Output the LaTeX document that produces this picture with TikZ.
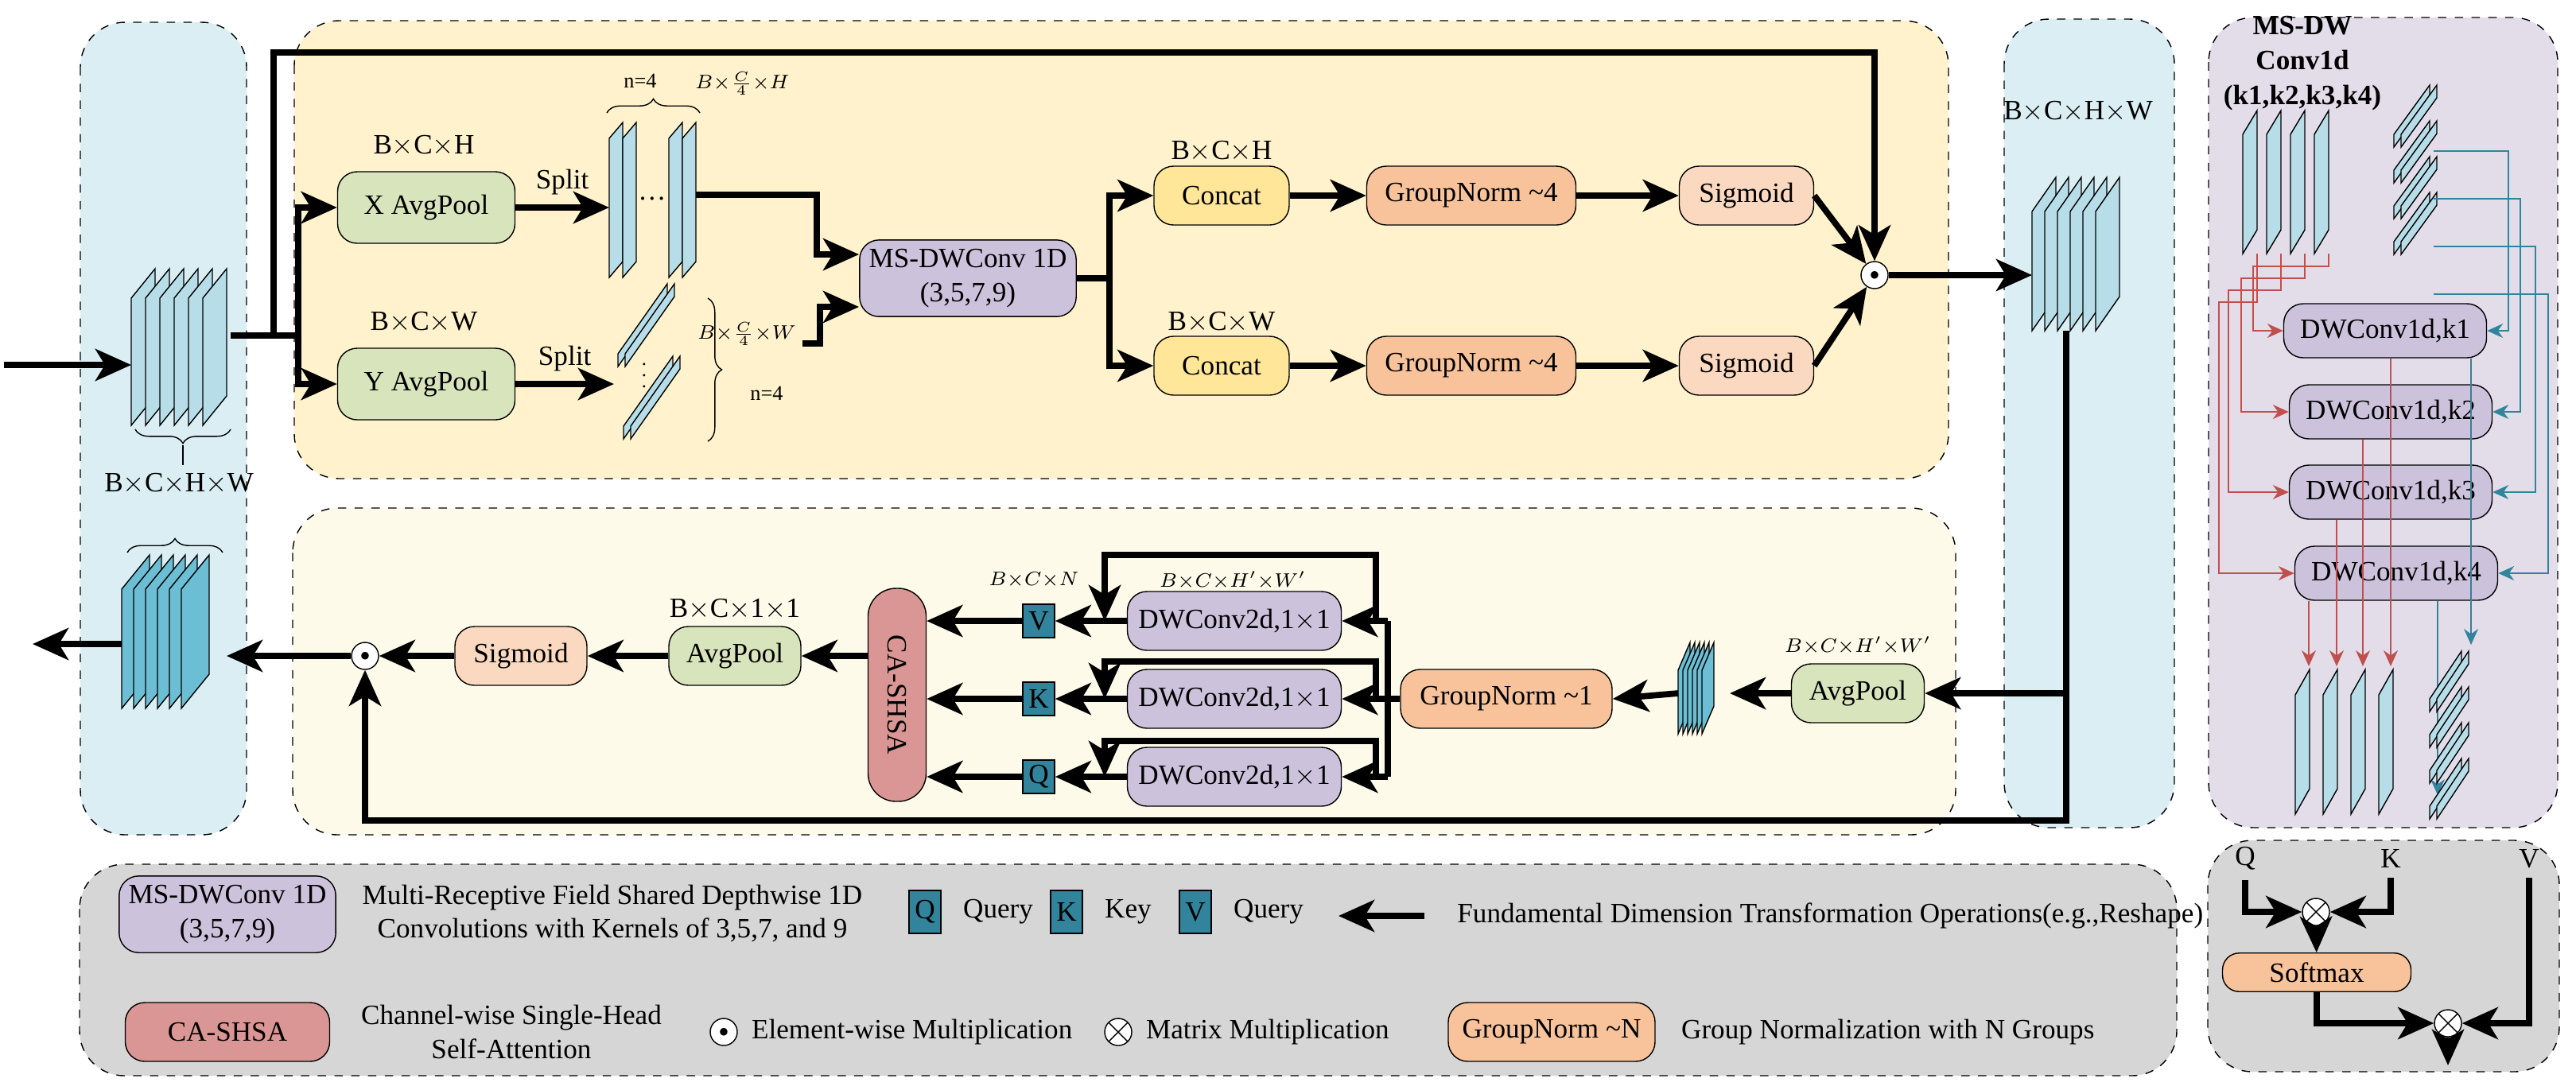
\documentclass[tikz,border=0pt]{standalone}
\usepackage{fontspec}
\setmainfont{Liberation Serif}
\usetikzlibrary{arrows.meta,positioning,decorations.pathreplacing,calc}
\definecolor{cblue}{HTML}{DAEEF3}
\definecolor{cyel}{HTML}{FFF2CC}
\definecolor{cyelb}{HTML}{FEFAEA}
\definecolor{cpanel}{HTML}{E3DDEA}
\definecolor{cgray}{HTML}{D6D6D6}
\definecolor{cgreen}{HTML}{D8E4BC}
\definecolor{cpurp}{HTML}{CCC2DC}
\definecolor{cconcat}{HTML}{FFE699}
\definecolor{corange}{HTML}{F8C39B}
\definecolor{csig}{HTML}{FAD9C0}
\definecolor{cred}{HTML}{D99694}
\definecolor{cteal}{HTML}{31849B}
\definecolor{cstrip}{HTML}{B7DDE8}
\definecolor{cdark}{HTML}{6BBED3}
\definecolor{credl}{HTML}{C0504D}
% feature map stack: x, ybot, n, step, h, dx, dy, colour
\newcommand\fmap[8]{\foreach \i in {1,...,#3}{\filldraw[fill=#8,thin] ({#1+(\i-1)*#4},#2) -- ++(0,#5) -- ++(#6,#7) -- ++(0,-#5) -- cycle;}}
% pair of slanted plates: x, y, dx, dy, colour
\newcommand\dpair[5]{\foreach \j in {0,1}{\filldraw[fill=#5,thin] ({#1+\j*0.09},#2) -- ++(0,.16) -- ++(#3,#4) -- ++(0,-.16) -- cycle;}}
\tikzset{
  box/.style={draw,thin,rounded corners=7pt,align=center,minimum height=.74cm,font=\fontsize{10}{12}\selectfont},
  lbl/.style={font=\fontsize{10}{12}\selectfont,align=center},
  slbl/.style={font=\fontsize{7.5}{9}\selectfont,inner sep=1pt},
  arr/.style={line width=2.2pt,-{Stealth[length=4.5mm,width=4mm,inset=1.2mm]}},
  ln/.style={line width=2.2pt},
  tarr/.style={thin,-{Stealth[length=2mm,width=1.8mm]}},
  panel/.style={draw,dashed,thin,rounded corners=16pt},
  qkv/.style={draw,thin,fill=cteal,minimum width=.4cm,minimum height=.42cm,inner sep=1pt,font=\fontsize{10}{12}\selectfont},
  odot/.style={circle,draw,fill=white,inner sep=0pt,minimum size=3.4mm,font=\fontsize{6}{6}\selectfont,node contents={$\bullet$}},
  otimes/.style={circle,draw,fill=white,inner sep=0pt,minimum size=3.4mm,path picture={
      \draw ([shift={(-.12,-.12)}]path picture bounding box.center) -- ++(.24,.24);
      \draw ([shift={(-.12,.12)}]path picture bounding box.center) -- ++(.24,-.24);}},
}
\begin{document}
\begin{tikzpicture}
\useasboundingbox (0,0) rectangle (32.39,-13.7);
% panels
\draw[panel,fill=cblue] (1.01,-.28) rectangle (3.1,-10.5);
\draw[panel,fill=cyel] (3.7,-.26) rectangle (24.5,-6.02);
\draw[panel,fill=cyelb] (3.68,-6.39) rectangle (24.59,-10.5);
\draw[panel,fill=cblue] (25.2,-.24) rectangle (27.34,-10.41);
\draw[panel,fill=cpanel] (27.77,-.22) rectangle (32.16,-10.41);
\draw[panel,fill=cgray] (1,-10.87) rectangle (27.37,-13.53);
\draw[panel,fill=cgray] (27.76,-10.57) rectangle (32.18,-13.48);

% upper branch
\fmap{1.65}{-5.35}{6}{.18}{1.6}{.3}{.37}{cstrip}
\coordinate (in) at (.05,-4.59);
\coordinate (inL) at (1.65,-4.59);
\coordinate (sL) at (2.9,-4.22);
\coordinate (br) at (3.75,-4.22);
\coordinate (tp) at (3.44,-4.22);
\draw[arr] (in) -- (inL);
\draw[decorate,decoration={brace,mirror,amplitude=5pt}] (1.7,-5.4) -- (2.9,-5.4);
\draw[thin] (2.3,-5.6) -- (2.3,-5.85);
\node[lbl] (lin) at (2.25,-6.08) {B$\times$C$\times$H$\times$W};

\node[box,fill=cgreen,minimum width=2.23cm,minimum height=.9cm] (xpool) at (5.36,-2.61) {X AvgPool};
\node[box,fill=cgreen,minimum width=2.23cm,minimum height=.9cm] (ypool) at (5.36,-4.83) {Y AvgPool};
\node[lbl] at (5.33,-1.83) {B$\times$C$\times$H};
\node[lbl] at (5.33,-4.05) {B$\times$C$\times$W};
\draw[ln] (sL) -- (br);
\draw[arr] (br) |- (xpool.west);
\draw[arr] (br) |- (ypool.west);

% split along H
\fmap{7.66}{-3.49}{2}{.17}{1.75}{.17}{.2}{cstrip}
\fmap{8.41}{-3.49}{2}{.17}{1.75}{.17}{.2}{cstrip}
\node[inner sep=0pt] at (8.2,-2.5) {\dots};
\coordinate (sx) at (7.66,-2.61);
\draw[arr] (xpool) -- node[lbl,above] {Split} (sx);
\draw[decorate,decoration={brace,amplitude=5pt}] (7.63,-1.42) -- (8.8,-1.42);
\node[slbl] at (8.05,-1.02) {n=4};
\node[slbl,anchor=west] at (8.7,-1.05) {$B{\times}\frac{C}{4}{\times}H$};
% split along W
\dpair{7.77}{-4.61}{.62}{.88}{cstrip}
\dpair{7.84}{-5.52}{.62}{.88}{cstrip}
\node[inner sep=0pt,font=\fontsize{7}{7}\selectfont] at (8.1,-4.62) {$\vdots$};
\coordinate (sy) at (7.72,-4.83);
\draw[arr] (ypool) -- node[lbl,above] {Split} (sy);
\draw[decorate,decoration={brace,amplitude=5pt}] (8.9,-3.75) -- (8.9,-5.55);
\node[slbl,anchor=east] at (10.05,-4.2) {$B{\times}\frac{C}{4}{\times}W$};
\node[slbl] at (9.64,-4.95) {n=4};

\node[box,fill=cpurp,minimum width=2.67cm,minimum height=.88cm] (ms) at (12.17,-3.5) {MS-DWConv 1D\\(3,5,7,9)};
\coordinate (sxo) at (8.75,-2.45);
\coordinate (syo) at (10.09,-4.32);
\draw[arr] (sxo) -- (10.27,-2.45) |- ([yshift=3mm]ms.west);
\draw[arr] (syo) -- (10.31,-4.32) |- ([yshift=-3.6mm]ms.west);

\node[box,fill=cconcat,minimum width=1.7cm] (cc1) at (15.36,-2.46) {Concat};
\node[box,fill=corange,minimum width=2.63cm] (gn1) at (18.5,-2.46) {GroupNorm \textasciitilde4};
\node[box,fill=csig,minimum width=1.69cm] (sg1) at (21.96,-2.46) {Sigmoid};
\node[box,fill=cconcat,minimum width=1.7cm] (cc2) at (15.36,-4.6) {Concat};
\node[box,fill=corange,minimum width=2.63cm] (gn2) at (18.5,-4.6) {GroupNorm \textasciitilde4};
\node[box,fill=csig,minimum width=1.69cm] (sg2) at (21.96,-4.6) {Sigmoid};
\node[lbl] at (15.36,-1.9) {B$\times$C$\times$H};
\node[lbl] at (15.36,-4.05) {B$\times$C$\times$W};
\coordinate (msb) at (13.95,-3.5);
\draw[ln] (ms.east) -- (msb);
\draw[arr] (msb) |- (cc1);
\draw[arr] (msb) |- (cc2);
\draw[arr] (cc1) -- (gn1);
\draw[arr] (gn1) -- (sg1);
\draw[arr] (cc2) -- (gn2);
\draw[arr] (gn2) -- (sg2);
\node (dot1) at (23.57,-3.46) [odot];
\draw[arr] (sg1.east) -- (dot1);
\draw[arr] (sg2.east) -- (dot1);
\draw[arr] (tp) -- (3.44,-.66) -| (dot1.north);

% middle stack
\fmap{25.55}{-4.16}{6}{.16}{1.5}{.3}{.43}{cstrip}
\node[lbl] at (26.13,-1.4) {B$\times$C$\times$H$\times$W};
\coordinate (mi) at (25.55,-3.46);
\coordinate (mo) at (25.98,-4.16);
\draw[arr] (dot1) -- (mi);

% lower branch
\node[box,fill=cgreen,minimum width=1.67cm] (ap2) at (23.36,-8.72) {AvgPool};
\node[slbl] at (23.36,-8.12) {$B{\times}C{\times}H'{\times}W'$};
\fmap{21.1}{-9.23}{6}{.06}{.8}{.15}{.35}{cdark}
\coordinate (ssr) at (21.75,-8.72);
\coordinate (ssl) at (21.1,-8.72);
\draw[arr] (25.98,-8.72) -- (ap2.east);
\draw[arr] (ap2.west) -- (ssr);
\node[box,fill=corange,minimum width=2.66cm] (gn3) at (18.94,-8.79) {GroupNorm \textasciitilde1};
\draw[arr] (ssl) -- (gn3.east);
\coordinate (bus) at (17.45,-8.79);
\draw[ln] (gn3.west) -- (bus);
\draw[ln] (17.45,-7.81) -- (17.45,-9.77);
\node[box,fill=cred,minimum width=.73cm,minimum height=2.68cm,rounded corners=10pt] (sha) at (11.28,-8.74) {\rotatebox{-90}{CA-SHSA}};
\foreach \n/\y/\t/\l in {v/-7.81/V/-6.98, k/-8.79/K/-8.32, q/-9.77/Q/-9.32}{
  \node[box,fill=cpurp,minimum width=2.69cm] (dw\n) at (15.52,\y) {DWConv2d,1$\times$1};
  \node[qkv] (\n) at (13.06,\y) {\t};
  \draw[arr] (17.45,\y) -- (dw\n.east);
  \draw[arr] (dw\n.west) -- (\n.east);
  \draw[arr] (\n.west) -- (sha.east |- \n);
  \draw[arr] (17.3,\y) -- (17.3,\l) -| (13.89,\y);
}
\node[slbl] at (13.0,-7.3) {$B{\times}C{\times}N$};
\node[slbl] at (15.5,-7.3) {$B{\times}C{\times}H'{\times}W'$};
\node[box,fill=cgreen,minimum width=1.66cm] (ap1) at (9.24,-8.25) {AvgPool};
\node[lbl] at (9.24,-7.66) {B$\times$C$\times$1$\times$1};
\node[box,fill=csig,minimum width=1.66cm] (sg3) at (6.55,-8.25) {Sigmoid};
\node (dot2) at (4.59,-8.25) [odot];
\draw[arr] (sha.west |- ap1) -- (ap1.east);
\draw[arr] (ap1) -- (sg3);
\draw[arr] (sg3) -- (dot2);
\draw[arr] (mo) |- (4.59,-10.32) -- (dot2.south);
\fmap{1.53}{-8.91}{6}{.15}{1.5}{.35}{.43}{cdark}
\draw[decorate,decoration={brace,amplitude=5pt}] (1.6,-6.95) -- (2.8,-6.95);
\coordinate (sbr) at (2.85,-8.25);
\coordinate (sbl) at (1.53,-8.1);
\coordinate (out) at (.41,-8.1);
\draw[arr] (dot2) -- (sbr);
\draw[arr] (sbl) -- (out);

% MS-DW Conv1d detail
\node[font=\bfseries\fontsize{10}{12.5}\selectfont,align=center] at (28.95,-.8) {MS-DW\\Conv1d\\(k1,k2,k3,k4)};
\fmap{28.2}{-3.19}{4}{.3}{1.5}{.18}{.3}{cstrip}
\foreach \b in {-1.85,-2.3,-2.75,-3.2} {\dpair{30.1}{\b}{.45}{.62}{cstrip}}
\foreach \n/\y/\x in {1/-4.16/29.99, 2/-5.18/30.06, 3/-6.19/30.06, 4/-7.21/30.13}
  {\node[box,fill=cpurp,minimum width=2.55cm,minimum height=.68cm] (k\n) at (\x,\y) {DWConv1d,k\n};}
\foreach \n/\sx/\yh/\xr in {1/29.28/-3.35/28.33, 2/28.98/-3.5/28.18, 3/28.68/-3.65/28.02, 4/28.38/-3.8/27.9}
  {\draw[tarr,credl] (\sx,-3.19) |- (\xr,\yh) |- (k\n.west);}
\foreach \n/\ys/\xr in {1/-1.9/31.54, 2/-2.5/31.69, 3/-3.1/31.88, 4/-3.7/32.04}
  {\draw[tarr,cteal] (30.6,\ys) -| (\xr,-4) |- (k\n.east);}
\foreach \n/\xo in {1/30.06, 2/29.71, 3/29.38, 4/29.03}
  {\draw[tarr,credl] (k\n.south -| {\xo,0}) -- (\xo,-8.38);}
\draw[tarr,cteal] (k1.south -| {31.07,0}) -- (31.07,-8.11);
\draw[tarr,cteal] (k4.south -| {30.65,0}) -- (30.65,-10.0);
\fmap{28.86}{-10.24}{4}{.35}{1.5}{.18}{.32}{cstrip}
\foreach \b in {-8.95,-9.4,-9.85,-10.3} {\dpair{30.55}{\b}{.4}{.6}{cstrip}}

% legend
\node[box,fill=cpurp,minimum width=2.57cm,minimum height=.87cm] (lg1) at (2.86,-11.5) {MS-DWConv 1D\\(3,5,7,9)};
\node[lbl] at (7.7,-11.49) {Multi-Receptive Field Shared Depthwise 1D\\Convolutions with Kernels of 3,5,7, and 9};
\foreach \n/\x/\t/\w in {lq/11.63/Q/Query, lk/13.41/K/Key, lv/15.03/V/Query}{
  \node[qkv,minimum height=.54cm] (\n) at (\x,-11.47) {\t};
  \node[lbl,right=.15cm of \n] {\w};
}
\coordinate (la1) at (17.91,-11.52);
\coordinate (la2) at (16.83,-11.52);
\draw[arr] (la1) -- (la2);
\node[lbl,anchor=west] at (18.2,-11.52) {Fundamental Dimension Transformation Operations(e.g.,Reshape)};
\node[box,fill=cred,minimum width=2.57cm] (lg2) at (2.86,-12.98) {CA-SHSA};
\node[lbl] at (6.43,-12.98) {Channel-wise Single-Head\\Self-Attention};
\node (lgd) at (9.1,-12.98) [odot];
\node[lbl,right=.05cm of lgd] {Element-wise Multiplication};
\node[otimes] (lgx) at (14.06,-12.98) {};
\node[lbl,right=.05cm of lgx] {Matrix Multiplication};
\node[box,fill=corange,minimum width=2.6cm] (lg3) at (19.51,-12.98) {GroupNorm \textasciitilde N};
\node[lbl,right=.2cm of lg3] {Group Normalization with N Groups};

% attention detail
\node[lbl] (aq) at (28.23,-10.8) {Q};
\node[lbl] (ak) at (30.06,-10.8) {K};
\node[lbl] (av) at (31.8,-10.8) {V};
\node[otimes] (ot1) at (29.12,-11.47) {};
\node[box,fill=corange,minimum width=2.37cm,minimum height=.41cm,rounded corners=6pt] (sm) at (29.13,-12.23) {Softmax};
\node[otimes] (ot2) at (30.78,-12.87) {};
\coordinate (ao) at (30.78,-13.4);
\draw[arr] (aq) |- (ot1);
\draw[arr] (ak) |- (ot1);
\draw[arr] (ot1) -- (sm);
\draw[arr] (sm) |- (ot2);
\draw[arr] (av) |- (ot2);
\draw[arr] (ot2) -- (ao);
\end{tikzpicture}
\end{document}
